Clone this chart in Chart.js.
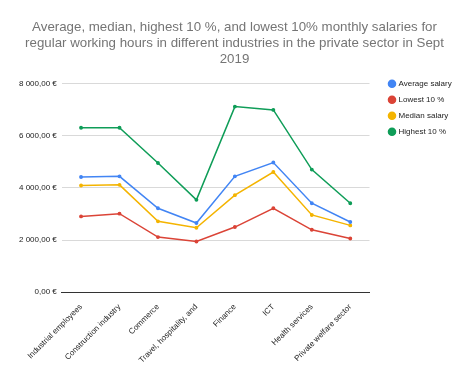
<!DOCTYPE html>
<html>
<head>
<meta charset="utf-8">
<script src="https://cdn.jsdelivr.net/npm/chart.js@4/dist/chart.umd.min.js"></script>
<style>
  html, body { margin: 0; padding: 0; background: #fff; }
  #wrap { width: 474px; height: 387px; }
</style>
</head>
<body>
<div id="wrap"><canvas id="grafico"></canvas></div>
<script>
const categorias = ['Industrial employees', 'Construction industry', 'Commerce', 'Travel, hospitality, and', 'Finance', 'ICT', 'Health services', 'Private welfare sector']
const mediaSalario = [4420, 4445, 3220, 2655, 4445, 4975, 3415, 2695]
const menor10 = [2910, 3015, 2115, 1945, 2500, 3220, 2395, 2060]
const medianaSalario = [4095, 4120, 2720, 2475, 3725, 4610, 2965, 2565]
const maior10 = [6310, 6310, 4960, 3545, 7120, 6995, 4705, 3415]
const ticksY = [0, 2000, 4000, 6000, 8000]

const fonte = 'Liberation Sans, Arial, sans-serif'

function fmEuro(v) {
  const inteiro = Math.round(v).toString().replace(/\B(?=(\d{3})+(?!\d))/g, ' ')
  return inteiro + ',00 €'
}

function serie(label, data, cor) {
  return {
    label, data,
    borderColor: cor, backgroundColor: cor,
    borderWidth: 1.5, pointRadius: 1.2, pointHoverRadius: 3,
    tension: 0
  }
}

// legenda sobe até o topo da área do gráfico
const subirLegenda = {
  id: 'subirLegenda',
  afterLayout(chart) {
    chart.legend.top -= 12
    chart.legend.bottom -= 12
  }
}

new Chart(document.getElementById('grafico'), {
  type: 'line',
  data: {
    labels: categorias,
    datasets: [
      serie('Average salary', mediaSalario, '#4285f4'),
      serie('Lowest 10 %', menor10, '#db4437'),
      serie('Median salary', medianaSalario, '#f4b400'),
      serie('Highest 10 %', maior10, '#0f9d58')
    ]
  },
  plugins: [subirLegenda],
  options: {
    responsive: true,
    maintainAspectRatio: false,
    animation: false,
    layout: { padding: { left: 14, right: 19, top: 20, bottom: 20 } },
    plugins: {
      title: {
        display: true,
        text: ['Average, median, highest 10 %, and lowest 10% monthly salaries for', 'regular working hours in different industries in the private sector in Sept', '2019'],
        color: '#757575',
        font: { family: fonte, size: 13.3, weight: 'normal', lineHeight: 1.17 },
        padding: { top: 0, bottom: 17 }
      },
      legend: {
        position: 'right',
        align: 'start',
        fullSize: false,
        labels: {
          usePointStyle: true, pointStyle: 'circle', boxWidth: 5, boxHeight: 5,
          color: '#222', padding: 8,
          font: { family: fonte, size: 8 }
        }
      }
    },
    scales: {
      x: {
        offset: true,
        grid: { display: false },
        border: { color: '#333', width: 1 },
        ticks: {
          color: '#222', maxRotation: 45, minRotation: 45, autoSkip: false, padding: 2,
          font: { family: fonte, size: 8 }
        }
      },
      y: {
        min: 0, max: 8000,
        afterBuildTicks: ax => { ax.ticks = ticksY.map(v => ({ value: v })) },
        grid: { color: '#d9d9d9', drawTicks: false },
        border: { display: false },
        ticks: {
          color: '#222', padding: 5,
          font: { family: fonte, size: 8 },
          callback: v => fmEuro(v)
        }
      },
      folga: {
        type: 'linear',
        position: 'right',
        grid: { display: false },
        border: { display: false },
        ticks: { display: false },
        afterFit: s => { s.width = 12 }
      }
    }
  }
})
</script>
</body>
</html>
